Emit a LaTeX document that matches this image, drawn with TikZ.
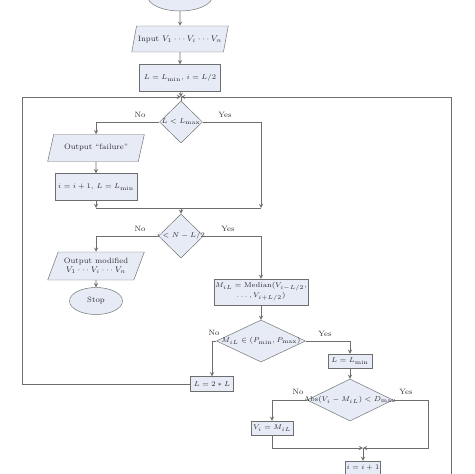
\documentclass[tikz,border=0pt]{standalone}
\usepackage{xcolor}
\usepackage{tikz}
\usetikzlibrary{shapes,arrows,positioning,calc}

\definecolor{boxfill}{HTML}{E6EBF5}
\definecolor{edgegray}{HTML}{6E6E6E}
\definecolor{textgray}{HTML}{2E2E2E}

\begin{document}
\begin{tikzpicture}[
    x=0.3mm, y=-0.3mm,
    every node/.style = {font=\fontsize{6.6}{7.8}\selectfont, text=textgray, inner sep=1pt},
    small/.style = {font=\fontsize{6}{7.2}\selectfont},
    process/.style = {rectangle, draw=edgegray, fill=boxfill, align=center},
    io/.style = {trapezium, trapezium left angle=63, trapezium right angle=117,
                 trapezium stretches, draw=edgegray, fill=boxfill, align=center},
    terminal/.style = {ellipse, draw=edgegray, fill=boxfill},
    decision/.style = {diamond, draw=edgegray, fill=boxfill, inner sep=0pt,
                       font=\fontsize{5.7}{6.8}\selectfont},
    lbl/.style = {inner sep=0pt},
    line/.style = {draw=edgegray, line width=0.6pt},
    >=stealth
  ]
  \useasboundingbox (0,0) rectangle (474,474);
  \clip (0,0) rectangle (474,474);

  % main column
  \node[terminal, minimum width=19.5mm, minimum height=9mm] (start) at (180,-4) {Start};
  \node[io, minimum width=29.1mm, minimum height=7.8mm] (input) at (180,39) {Input $V_1\cdots V_i\cdots V_n$};
  \node[process, small, minimum width=24.3mm, minimum height=8.1mm] (lrect) at (180,78) {$L = L_{\mathrm{min}},\, i = L/2$};
  \coordinate (m0) at (181,97);
  \node[decision, minimum width=12.9mm, minimum height=12.6mm] (d1) at (181,122) {\makebox[0pt]{$L < L_{\mathrm{max}}$}};

  % failure branch
  \node[io, minimum width=29.1mm, minimum height=8.1mm] (fail) at (96,148) {Output ``failure''};
  \node[process, small, minimum width=24.6mm, minimum height=8.1mm] (inc) at (96,187) {$i = i + 1,\, L = L_{\mathrm{min}}$};
  \coordinate (j1) at (96,208);
  \coordinate (m1) at (181,208);
  \coordinate (j2) at (261,208);

  \node[decision, minimum width=13.5mm, minimum height=13.2mm] (d2) at (181,236) {\makebox[0pt]{$i < N - L/2$}};
  \node[io, minimum width=29.1mm, minimum height=8.4mm] (outm) at (96,266) {Output modified\\ $V_1\cdots V_i\cdots V_n$};
  \node[terminal, minimum width=15.9mm, minimum height=8.1mm] (stop) at (96,301) {Stop};

  % median part
  \node[process, small, minimum width=25.5mm, minimum height=7.8mm] (median) at (261,292) {$M_{iL} = \mathrm{Median}(V_{i-L/2},$\\ $\ldots, V_{i+L/2})$};
  \node[decision, minimum width=26.7mm, minimum height=12.6mm] (d3) at (261,341) {\makebox[0pt]{$M_{iL} \in (P_{\mathrm{min}}, P_{\mathrm{max}})$}};
  \node[process, small, minimum width=12.9mm, minimum height=4.5mm] (l2) at (212,384) {$L = 2 * L$};
  \node[process, small, minimum width=13.2mm, minimum height=4.2mm] (lmin) at (350,361) {$L = L_{\mathrm{min}}$};
  \node[decision, minimum width=25.8mm, minimum height=12.6mm] (d4) at (350,400) {\makebox[0pt]{$\mathrm{Abs}(V_i - M_{iL}) < D_{\mathrm{max}}$}};
  \node[process, small, minimum width=12.6mm, minimum height=4.2mm] (vi) at (272,428) {$V_i = M_{iL}$};
  \coordinate (m3) at (363,448);
  \coordinate (ry) at (428,448);
  \node[process, small, minimum width=8.7mm, minimum height=4.2mm] (inc2) at (363,468) {$i = i + 1$};

  % loop corners
  \coordinate (lx) at (22,97);
  \coordinate (rb) at (451,495);

  % labels
  \node[lbl] (no1) at (140,115) {No};
  \node[lbl] (yes1) at (225,115) {Yes};
  \node[lbl] (no2) at (140,229) {No};
  \node[lbl] (yes2) at (228,229) {Yes};
  \node[lbl] (no3) at (214,333) {No};
  \node[lbl] (yes3) at (325,334) {Yes};
  \node[lbl] (no4) at (298,392) {No};
  \node[lbl] (yes4) at (406,392) {Yes};

  % connectors
  \draw[line,->] (start) -- (input);
  \draw[line,->] (input) -- (lrect);
  \draw[line,->] (lrect) -- (m0);
  \draw[line] (m0) -- (d1);
  \draw[line,->] (d1.west) -| (fail.north);
  \draw[line,->] (fail) -- (inc);
  \draw[line,->] (inc) -- (j1);
  \draw[line,->] (d1.east) -| (j2);
  \draw[line] (j1) -- (j2);
  \draw[line,->] (m1) -- (d2);
  \draw[line,->] (d2.west) -| (outm.north);
  \draw[line,->] (outm) -- (stop);
  \draw[line,->] (d2.east) -| (median.north);
  \draw[line,->] (median) -- (d3);
  \draw[line,->] (d3.west) -| (l2.north);
  \draw[line,->] (d3.east) -| (lmin.north);
  \draw[line,->] (lmin) -- (d4);
  \draw[line,->] (d4.west) -| (vi.north);
  \draw[line,->] (vi.south) |- (m3);
  \draw[line,->] (d4.east) -| (ry) -- (m3);
  \draw[line,->] (m3) -- (inc2);
  \draw[line,->] (l2.west) -| (lx) -- (m0);
  \draw[line,->] (inc2.south) |- (rb) |- (m0);
\end{tikzpicture}
\end{document}
